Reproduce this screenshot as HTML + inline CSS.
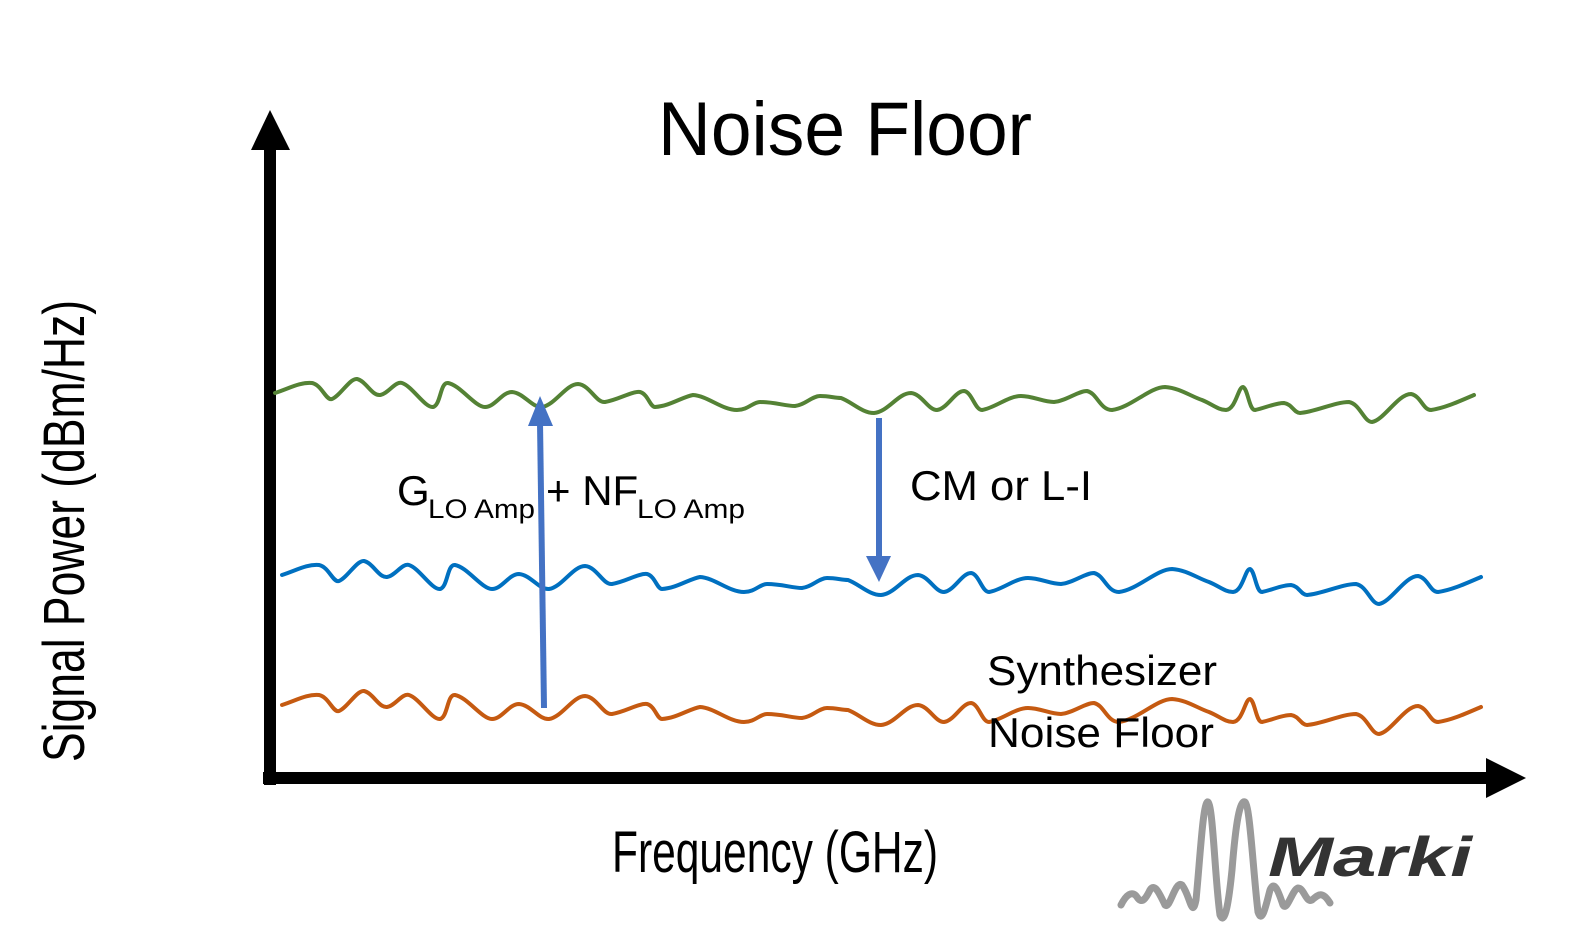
<!DOCTYPE html>
<html><head><style>
html,body{margin:0;padding:0;background:#fff;}
svg{display:block;}
text{font-family:"Liberation Sans",sans-serif;fill:#000;}
</style></head><body>
<svg width="1583" height="935" viewBox="0 0 1583 935" xmlns="http://www.w3.org/2000/svg">
<defs>
<path id="wave" fill="none" stroke-width="4" stroke-linejoin="round" stroke-linecap="round"
d="M275,393 C290,388 300,382 312,383 C322,385 326,401 332,399 C340,396 350,378 357,379 C366,381 372,396 380,395 C388,394 395,381 402,383 C412,386 425,408 433,407 C441,405 440,382 448,383 C460,385 475,407 485,407 C495,407 502,392 512,392 C524,393 532,408 542,407 C555,405 566,384 578,384 C590,385 596,403 605,402 C618,400 632,391 640,392 C648,394 650,407 655,407 C670,406 682,397 693,395 C708,396 722,410 737,410 C748,410 753,402 760,402 C775,402 785,406 795,406 C805,405 812,396 820,396 C830,396 834,398 841,398 C852,402 862,413 874,413 C888,412 898,393 911,393 C922,394 928,410 937,410 C947,409 955,391 964,391 C972,392 975,410 982,410 C995,408 1008,396 1021,396 C1033,396 1043,402 1054,402 C1066,401 1078,391 1087,391 C1097,393 1100,410 1112,410 C1130,408 1150,387 1165,387 C1180,388 1190,396 1202,400 C1212,404 1218,410 1226,410 C1236,409 1238,387 1243,387 C1248,389 1249,410 1255,410 C1265,408 1275,403 1284,403 C1292,404 1294,413 1300,413 C1315,412 1335,402 1349,402 C1360,404 1364,422 1372,422 C1384,420 1398,394 1411,394 C1421,396 1423,410 1431,410 C1445,408 1460,401 1474,395"/>
<marker id="ah" markerWidth="8" markerHeight="8" refX="0" refY="4" orient="auto" markerUnits="userSpaceOnUse"></marker>
</defs>

<text x="658" y="155" font-size="76" textLength="374" lengthAdjust="spacingAndGlyphs">Noise Floor</text>

<!-- axes -->
<rect x="264" y="145" width="12" height="640" fill="#000"/>
<polygon points="270,110 251,150 290,150" fill="#000"/>
<rect x="263" y="772" width="1230" height="12" fill="#000"/>
<polygon points="1526,778 1486,758 1486,798" fill="#000"/>

<!-- waves -->
<use href="#wave" stroke="#548235"/>
<use href="#wave" stroke="#0070c0" transform="translate(7,182)"/>
<use href="#wave" stroke="#c55a11" transform="translate(7,312)"/>

<!-- arrows -->
<line x1="544" y1="708" x2="540" y2="422" stroke="#4472c4" stroke-width="6"/>
<polygon points="540,396 528,426 553,426" fill="#4472c4"/>
<line x1="879" y1="418" x2="879" y2="560" stroke="#4472c4" stroke-width="6"/>
<polygon points="879,582 866,556 891,556" fill="#4472c4"/>

<!-- labels -->
<text x="397" y="505" font-size="42">G</text>
<text x="428" y="518" font-size="27" textLength="107" lengthAdjust="spacingAndGlyphs">LO Amp</text>
<text x="546" y="505" font-size="42">+ NF</text>
<text x="637" y="518" font-size="27" textLength="108" lengthAdjust="spacingAndGlyphs">LO Amp</text>
<text x="910" y="500" font-size="42" textLength="182" lengthAdjust="spacingAndGlyphs">CM or L-I</text>
<text x="987" y="685" font-size="42" textLength="230" lengthAdjust="spacingAndGlyphs">Synthesizer</text>
<text x="988" y="747" font-size="42" textLength="226" lengthAdjust="spacingAndGlyphs">Noise Floor</text>

<text transform="translate(84,762) rotate(-90)" font-size="58" textLength="462" lengthAdjust="spacingAndGlyphs">Signal Power (dBm/Hz)</text>
<text x="612" y="872" font-size="58" textLength="326" lengthAdjust="spacingAndGlyphs">Frequency (GHz)</text>

<!-- Marki logo -->
<path fill="none" stroke="#9a9a9a" stroke-width="7" stroke-linejoin="round" stroke-linecap="round"
d="M1121,905 C1126,895 1132,890 1137,897 C1142,905 1146,898 1150,890 C1155,882 1160,895 1165,905 C1170,910 1175,880 1182,885 C1190,895 1192,920 1196,900 C1200,860 1203,800 1208,802 C1213,806 1215,880 1220,915 C1224,925 1228,910 1232,870 C1236,820 1240,800 1245,802 C1250,806 1253,870 1258,912 C1262,925 1266,905 1270,890 C1274,880 1278,890 1283,905 C1287,912 1292,890 1298,888 C1304,888 1306,903 1312,900 C1318,895 1322,890 1330,903"/>
<text x="1268" y="876" font-size="56" font-weight="bold" font-style="italic" fill="#333" style="fill:#333" textLength="204" lengthAdjust="spacingAndGlyphs">Marki</text>
</svg>
</body></html>
